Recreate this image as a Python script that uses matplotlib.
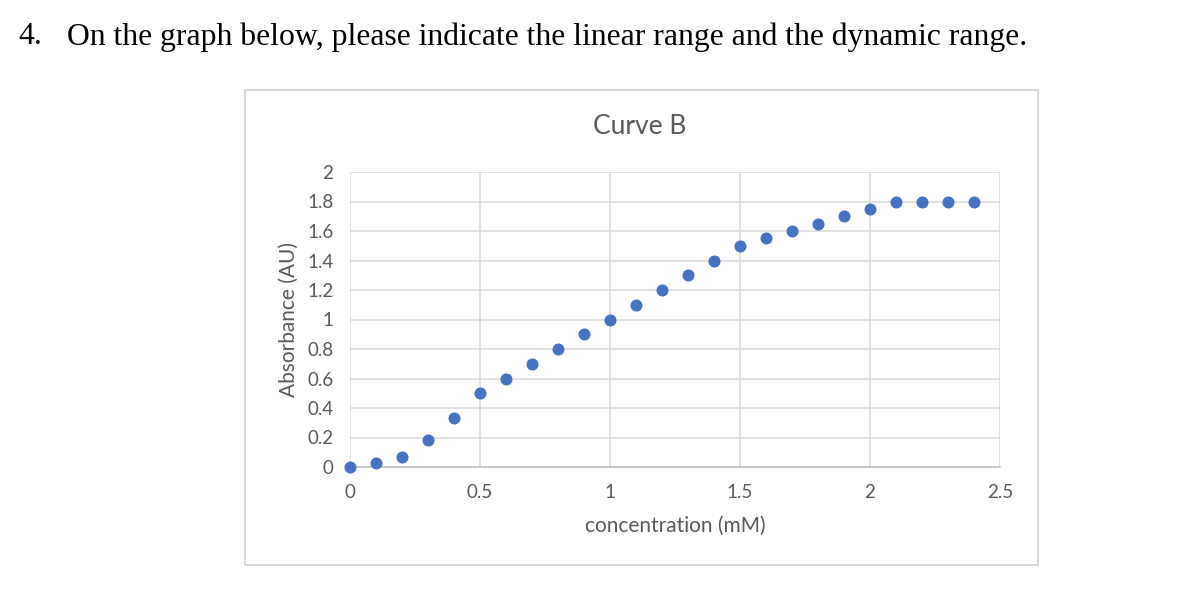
import matplotlib

matplotlib.use("Agg")
import matplotlib.pyplot as plt
from matplotlib.patches import Rectangle

concentration_mM = [0.0, 0.1, 0.2, 0.3, 0.4, 0.5, 0.6, 0.7, 0.8, 0.9, 1.0, 1.1, 1.2,
                    1.3, 1.4, 1.5, 1.6, 1.7, 1.8, 1.9, 2.0, 2.1, 2.2, 2.3, 2.4]
absorbance_AU = [0.0, 0.03, 0.07, 0.18, 0.33, 0.5, 0.6, 0.7, 0.8, 0.9, 1.0, 1.1, 1.2,
                 1.3, 1.4, 1.5, 1.55, 1.6, 1.65, 1.7, 1.75, 1.8, 1.8, 1.8, 1.8]
x_ticks = [0, 0.5, 1, 1.5, 2, 2.5]
x_tick_labels = ["0", "0.5", "1", "1.5", "2", "2.5"]
y_ticks = [0, 0.2, 0.4, 0.6, 0.8, 1, 1.2, 1.4, 1.6, 1.8, 2]
y_tick_labels = ["0", "0.2", "0.4", "0.6", "0.8", "1", "1.2", "1.4", "1.6", "1.8", "2"]

question_number = "4."
question_text = "On the graph below, please indicate the linear range and the dynamic range."

text_grey = "#595959"
grid_grey = "#d9d9d9"
chart_font = "Lato"

fig = plt.figure(figsize=(11.98, 6.08), dpi=100)

# question heading
fig.text(18 / 1198, 1 - 37 / 608, question_number, family="Liberation Serif",
         fontsize=22.8, va="center", ha="left")
fig.text(67 / 1198, 1 - 37 / 608, question_text, family="Liberation Serif",
         fontsize=22.8, va="center", ha="left")

# chart area frame, kept behind the axes
fig.patches.append(Rectangle((245 / 1198, 1 - 565 / 608), (1038 - 245) / 1198,
                             (565 - 90) / 608, transform=fig.transFigure,
                             facecolor="none", edgecolor="#d0d0d0", linewidth=1.2,
                             zorder=-1))

ax = fig.add_axes([350 / 1198, 1 - 467 / 608, 650 / 1198, 295 / 608])
ax.patch.set_alpha(0)
ax.scatter(concentration_mM, absorbance_AU, s=75, color="#4472C4", zorder=3,
           clip_on=False, linewidths=0)

ax.set_xlim(0, 2.5)
ax.set_ylim(0, 2)
ax.set_xticks(x_ticks, x_tick_labels)
ax.set_yticks(y_ticks, y_tick_labels)
ax.tick_params(length=0, labelsize=13.5, labelcolor=text_grey, pad=12)
for label in ax.get_xticklabels() + ax.get_yticklabels():
    label.set_family(chart_font)

ax.grid(True, color=grid_grey, linewidth=1.1)
ax.set_axisbelow(True)
for side in ("top", "right", "left"):
    ax.spines[side].set_visible(False)
ax.spines["bottom"].set_color("#bfbfbf")
ax.spines["bottom"].set_linewidth(1.2)

ax.set_xlabel("concentration (mM)", family=chart_font, fontsize=15,
              color=text_grey, labelpad=11)
ax.set_ylabel("Absorbance (AU)", family=chart_font, fontsize=15,
              color=text_grey, labelpad=6)
fig.text(640 / 1198, 1 - 127 / 608, "Curve B", family=chart_font, fontsize=19,
         color=text_grey, ha="center", va="center")

fig.savefig("out.png", dpi=100)
